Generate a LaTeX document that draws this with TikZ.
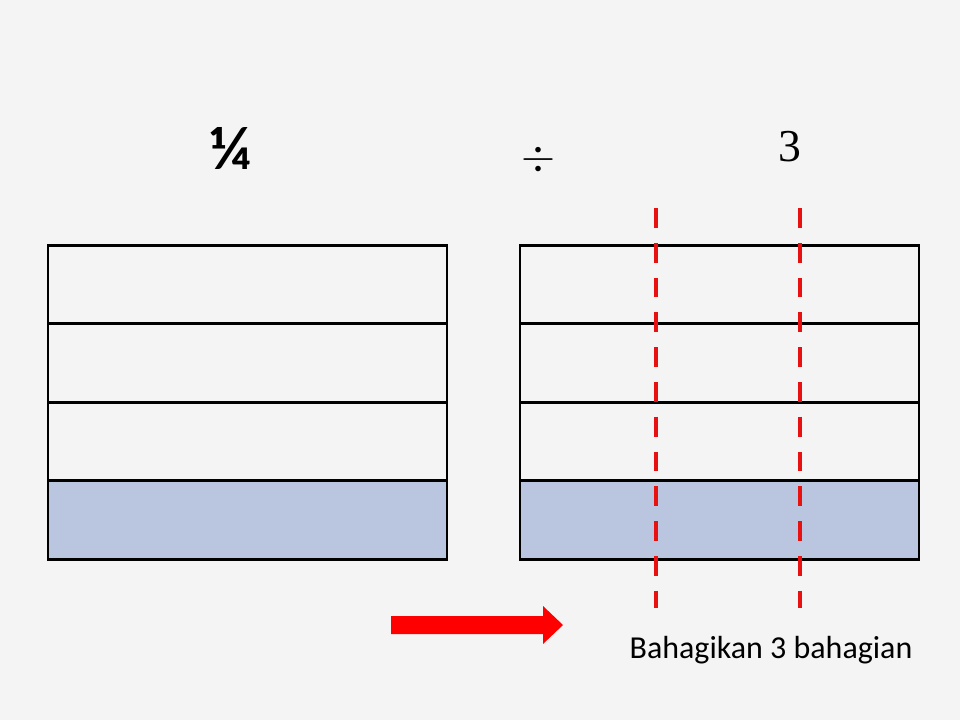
\documentclass[tikz,border=0pt]{standalone}
\usepackage{fontspec}
\usepackage{tikz}
\usetikzlibrary{positioning}
\newfontfamily\capfont{Carlito}
\newfontfamily\numfont{Liberation Serif}
\definecolor{slidebg}{RGB}{244,244,244}
\definecolor{partfill}{RGB}{186,197,223}
\definecolor{cutred}{RGB}{232,16,16}

\tikzset{
  part/.style={draw=black,line width=1.5pt,minimum width=7.98cm,minimum height=1.57cm,inner sep=0pt,fill=slidebg},
  shaded/.style={part,fill=partfill},
  cutline/.style={draw=cutred,line width=2.5pt,dash pattern=on 11.3pt off 8.5pt},
  bigtxt/.style={inner sep=0pt,anchor=center}
}

\begin{document}
\begin{tikzpicture}[x=0.02cm,y=-0.02cm]
\fill[slidebg] (0,0) rectangle (960,720);
\useasboundingbox (0,0) rectangle (960,720);

% the two strips, four parts each
\foreach \r/\yc in {1/284.5,2/363,3/441.5}{
  \node[part] (L\r) at (247.5,\yc) {};
  \node[part] (R\r) at (719.5,\yc) {};
}
\node[shaded] (L4) at (247.5,520) {};
\node[shaded] (R4) at (719.5,520) {};

% dividing lines
\coordinate (cutA top) at (656,208);
\coordinate (cutA bot) at (656,608);
\coordinate (cutB top) at (800,208);
\coordinate (cutB bot) at (800,608);
\draw[cutline] (cutA top) -- (cutA bot);
\draw[cutline] (cutB top) -- (cutB bot);

% labels
\node[bigtxt] (quarter) at (231,148) {\capfont\bfseries\fontsize{35}{40}\selectfont ¼};
\node[bigtxt] (divide) at (538,160) {\fontsize{26}{30}\selectfont $\div$};
\node[bigtxt] (three) at (790,147) {\numfont\fontsize{26}{30}\selectfont 3};
\node[bigtxt] (caption) at (771,650) {\capfont\fontsize{18.2}{22}\selectfont Bahagikan 3 bahagian};

% block arrow
\fill[red] (391,616) -- (543,616) -- (543,606) -- (563,625) -- (543,644) -- (543,634) -- (391,634) -- cycle;
\end{tikzpicture}
\end{document}
